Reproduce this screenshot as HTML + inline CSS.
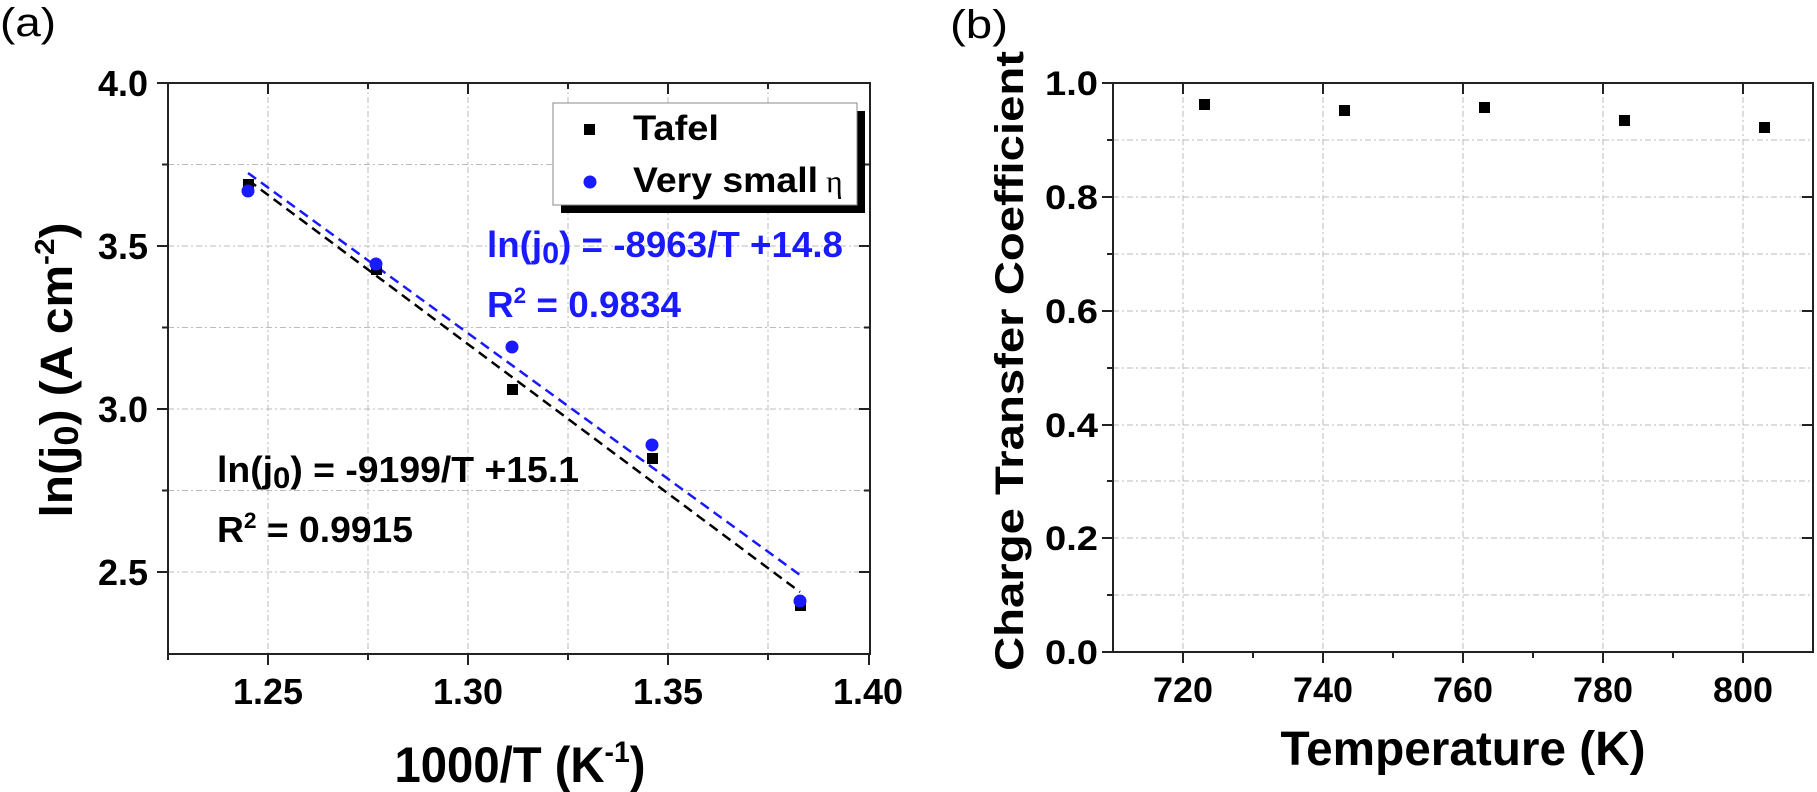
<!DOCTYPE html>
<html><head><meta charset="utf-8"><style>
html,body{margin:0;padding:0;background:#fff;}
svg{display:block;font-family:"Liberation Sans",Arial,sans-serif;}
</style></head><body>
<svg width="1817" height="792" viewBox="0 0 1817 792" xmlns="http://www.w3.org/2000/svg">
<rect width="1817" height="792" fill="#fff"/>
<text x="0" y="36" font-size="40" textLength="56" lengthAdjust="spacingAndGlyphs">(a)</text>
<text x="950" y="38" font-size="40" textLength="58" lengthAdjust="spacingAndGlyphs">(b)</text>

<!-- Panel a grid -->
<g stroke="#bbb" stroke-width="1" stroke-dasharray="6,3,2,3">
<line x1="268" y1="83" x2="268" y2="654"/><line x1="368" y1="83" x2="368" y2="654"/>
<line x1="468" y1="83" x2="468" y2="654"/><line x1="568" y1="83" x2="568" y2="654"/>
<line x1="668" y1="83" x2="668" y2="654"/><line x1="768" y1="83" x2="768" y2="654"/>
<line x1="168" y1="164.5" x2="870" y2="164.5"/><line x1="168" y1="246" x2="870" y2="246"/>
<line x1="168" y1="327.5" x2="870" y2="327.5"/><line x1="168" y1="409" x2="870" y2="409"/>
<line x1="168" y1="490.5" x2="870" y2="490.5"/><line x1="168" y1="572" x2="870" y2="572"/>
</g>
<rect x="168" y="83" width="702" height="571" fill="none" stroke="#222" stroke-width="2"/>
<g stroke="#222" stroke-width="2">
<line x1="157" y1="83" x2="168" y2="83"/><line x1="157" y1="246" x2="168" y2="246"/><line x1="157" y1="409" x2="168" y2="409"/><line x1="157" y1="572" x2="168" y2="572"/>
<line x1="162" y1="164.5" x2="168" y2="164.5"/><line x1="162" y1="327.5" x2="168" y2="327.5"/><line x1="162" y1="490.5" x2="168" y2="490.5"/>
<line x1="268" y1="654" x2="268" y2="665"/><line x1="468" y1="654" x2="468" y2="665"/><line x1="668" y1="654" x2="668" y2="665"/><line x1="869" y1="654" x2="869" y2="665"/>
<line x1="168" y1="654" x2="168" y2="660"/><line x1="368" y1="654" x2="368" y2="660"/><line x1="568" y1="654" x2="568" y2="660"/><line x1="768" y1="654" x2="768" y2="660"/>
<line x1="268" y1="83" x2="268" y2="94"/><line x1="468" y1="83" x2="468" y2="94"/><line x1="668" y1="83" x2="668" y2="94"/>
<line x1="368" y1="83" x2="368" y2="89"/><line x1="568" y1="83" x2="568" y2="89"/><line x1="768" y1="83" x2="768" y2="89"/>
<line x1="859" y1="246" x2="870" y2="246"/><line x1="859" y1="409" x2="870" y2="409"/><line x1="859" y1="572" x2="870" y2="572"/>
<line x1="864" y1="164.5" x2="870" y2="164.5"/><line x1="864" y1="327.5" x2="870" y2="327.5"/><line x1="864" y1="490.5" x2="870" y2="490.5"/>
</g>
<g font-size="36" font-weight="bold" text-anchor="end">
<text x="148" y="96" textLength="50" lengthAdjust="spacingAndGlyphs">4.0</text>
<text x="148" y="259" textLength="50" lengthAdjust="spacingAndGlyphs">3.5</text>
<text x="148" y="422" textLength="50" lengthAdjust="spacingAndGlyphs">3.0</text>
<text x="148" y="585" textLength="50" lengthAdjust="spacingAndGlyphs">2.5</text>
</g>
<g font-size="36" font-weight="bold" text-anchor="middle">
<text x="268" y="704" textLength="70" lengthAdjust="spacingAndGlyphs">1.25</text>
<text x="468" y="704" textLength="70" lengthAdjust="spacingAndGlyphs">1.30</text>
<text x="668" y="704" textLength="70" lengthAdjust="spacingAndGlyphs">1.35</text>
<text x="868" y="704" textLength="70" lengthAdjust="spacingAndGlyphs">1.40</text>
</g>
<text x="520" y="782" font-size="50" font-weight="bold" text-anchor="middle" textLength="251" lengthAdjust="spacingAndGlyphs">1000/T (K<tspan font-size="30" dy="-20">-1</tspan><tspan dy="20">)</tspan></text>
<text transform="translate(72,370) rotate(-90)" font-size="45" font-weight="bold" text-anchor="middle" textLength="295" lengthAdjust="spacingAndGlyphs">ln(j<tspan font-size="34" dy="6">0</tspan><tspan dy="-6">) (A cm</tspan><tspan font-size="28" dy="-18">-2</tspan><tspan dy="18">)</tspan></text>

<!-- fit lines -->
<line x1="248" y1="180" x2="800" y2="592" stroke="#000" stroke-width="2.5" stroke-dasharray="10,6"/>
<line x1="248" y1="173" x2="800" y2="575" stroke="#1a1aff" stroke-width="2.5" stroke-dasharray="10,6"/>
<g fill="#000">
<rect x="243" y="179" width="11" height="11"/><rect x="371" y="264" width="11" height="11"/>
<rect x="507" y="384" width="11" height="11"/><rect x="647" y="453" width="11" height="11"/><rect x="795" y="600" width="11" height="11"/>
</g>
<g fill="#1a1aff">
<circle cx="248" cy="191" r="6.5"/><circle cx="376" cy="264" r="6.5"/><circle cx="512" cy="347" r="6.5"/><circle cx="652" cy="445" r="6.5"/><circle cx="800" cy="601" r="6.5"/>
</g>

<!-- legend -->
<rect x="561" y="111" width="304" height="102" fill="#000"/>
<rect x="553" y="103" width="304" height="102" fill="#fff" stroke="#888" stroke-width="1"/>
<rect x="584" y="124" width="11" height="11" fill="#000"/>
<circle cx="590" cy="182" r="6.5" fill="#1a1aff"/>
<text x="633" y="140" font-size="35" font-weight="bold" textLength="86" lengthAdjust="spacingAndGlyphs">Tafel</text>
<text x="633" y="192" font-size="35" font-weight="bold" textLength="185" lengthAdjust="spacingAndGlyphs">Very small</text>
<text x="826" y="192" font-size="32" font-family="'Liberation Serif',serif">η</text>

<g font-size="36" font-weight="bold" fill="#1a1aff">
<text x="487" y="257" textLength="356" lengthAdjust="spacingAndGlyphs">ln(j<tspan font-size="30" dy="6">0</tspan><tspan dy="-6">) = -8963/T +14.8</tspan></text>
<text x="487" y="317" textLength="194" lengthAdjust="spacingAndGlyphs">R<tspan font-size="22" dy="-14">2</tspan><tspan dy="14"> = 0.9834</tspan></text>
</g>
<g font-size="36" font-weight="bold" fill="#000">
<text x="217" y="482" textLength="362" lengthAdjust="spacingAndGlyphs">ln(j<tspan font-size="30" dy="6">0</tspan><tspan dy="-6">) = -9199/T +15.1</tspan></text>
<text x="217" y="542" textLength="196" lengthAdjust="spacingAndGlyphs">R<tspan font-size="22" dy="-14">2</tspan><tspan dy="14"> = 0.9915</tspan></text>
</g>

<!-- Panel b -->
<g stroke="#bbb" stroke-width="1" stroke-dasharray="6,3,2,3">
<line x1="1183" y1="83" x2="1183" y2="652"/><line x1="1323" y1="83" x2="1323" y2="652"/>
<line x1="1463" y1="83" x2="1463" y2="652"/><line x1="1603" y1="83" x2="1603" y2="652"/><line x1="1743" y1="83" x2="1743" y2="652"/>
<line x1="1113" y1="140" x2="1813" y2="140"/><line x1="1113" y1="197" x2="1813" y2="197"/><line x1="1113" y1="254" x2="1813" y2="254"/>
<line x1="1113" y1="311" x2="1813" y2="311"/><line x1="1113" y1="368" x2="1813" y2="368"/><line x1="1113" y1="425" x2="1813" y2="425"/>
<line x1="1113" y1="481" x2="1813" y2="481"/><line x1="1113" y1="538" x2="1813" y2="538"/><line x1="1113" y1="595" x2="1813" y2="595"/>
</g>
<rect x="1113" y="83" width="700" height="569" fill="none" stroke="#222" stroke-width="2"/>
<g stroke="#222" stroke-width="2">
<line x1="1102" y1="83" x2="1113" y2="83"/><line x1="1102" y1="197" x2="1113" y2="197"/><line x1="1102" y1="311" x2="1113" y2="311"/><line x1="1102" y1="425" x2="1113" y2="425"/><line x1="1102" y1="538" x2="1113" y2="538"/><line x1="1102" y1="652" x2="1113" y2="652"/>
<line x1="1107" y1="140" x2="1113" y2="140"/><line x1="1107" y1="254" x2="1113" y2="254"/><line x1="1107" y1="368" x2="1113" y2="368"/><line x1="1107" y1="481" x2="1113" y2="481"/><line x1="1107" y1="595" x2="1113" y2="595"/>
<line x1="1183" y1="652" x2="1183" y2="663"/><line x1="1323" y1="652" x2="1323" y2="663"/><line x1="1463" y1="652" x2="1463" y2="663"/><line x1="1603" y1="652" x2="1603" y2="663"/><line x1="1743" y1="652" x2="1743" y2="663"/>
<line x1="1253" y1="652" x2="1253" y2="658"/><line x1="1393" y1="652" x2="1393" y2="658"/><line x1="1533" y1="652" x2="1533" y2="658"/><line x1="1673" y1="652" x2="1673" y2="658"/>
<line x1="1183" y1="83" x2="1183" y2="94"/><line x1="1323" y1="83" x2="1323" y2="94"/><line x1="1463" y1="83" x2="1463" y2="94"/><line x1="1603" y1="83" x2="1603" y2="94"/><line x1="1743" y1="83" x2="1743" y2="94"/>
<line x1="1802" y1="197" x2="1813" y2="197"/><line x1="1802" y1="311" x2="1813" y2="311"/><line x1="1802" y1="425" x2="1813" y2="425"/><line x1="1802" y1="538" x2="1813" y2="538"/>
</g>
<g font-size="34" font-weight="bold" text-anchor="end">
<text x="1098" y="95" textLength="53" lengthAdjust="spacingAndGlyphs">1.0</text>
<text x="1098" y="209" textLength="53" lengthAdjust="spacingAndGlyphs">0.8</text>
<text x="1098" y="323" textLength="53" lengthAdjust="spacingAndGlyphs">0.6</text>
<text x="1098" y="437" textLength="53" lengthAdjust="spacingAndGlyphs">0.4</text>
<text x="1098" y="550" textLength="53" lengthAdjust="spacingAndGlyphs">0.2</text>
<text x="1098" y="664" textLength="53" lengthAdjust="spacingAndGlyphs">0.0</text>
</g>
<g font-size="35" font-weight="bold" text-anchor="middle">
<text x="1183" y="702" textLength="60" lengthAdjust="spacingAndGlyphs">720</text>
<text x="1323" y="702" textLength="60" lengthAdjust="spacingAndGlyphs">740</text>
<text x="1463" y="702" textLength="60" lengthAdjust="spacingAndGlyphs">760</text>
<text x="1603" y="702" textLength="60" lengthAdjust="spacingAndGlyphs">780</text>
<text x="1743" y="702" textLength="60" lengthAdjust="spacingAndGlyphs">800</text>
</g>
<text x="1463" y="765" font-size="48" font-weight="bold" text-anchor="middle" textLength="365" lengthAdjust="spacingAndGlyphs">Temperature (K)</text>
<text transform="translate(1023,361) rotate(-90)" font-size="40" font-weight="bold" text-anchor="middle" textLength="620" lengthAdjust="spacingAndGlyphs">Charge Transfer Coefficient</text>
<g fill="#000">
<rect x="1199" y="99" width="11" height="11"/><rect x="1339" y="105" width="11" height="11"/><rect x="1479" y="102" width="11" height="11"/><rect x="1619" y="115" width="11" height="11"/><rect x="1759" y="122" width="11" height="11"/>
</g>
</svg>
</body></html>
